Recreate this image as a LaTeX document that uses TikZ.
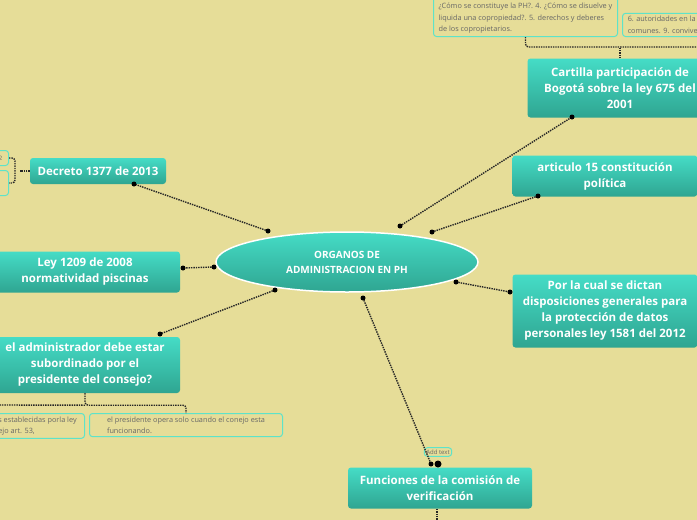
\documentclass[tikz,border=0pt]{standalone}
\usepackage{fontspec}
\setmainfont{Open Sans}
\usetikzlibrary{shapes.geometric}
\definecolor{bg}{HTML}{E6DD98}
\definecolor{tealA}{HTML}{45DCC6}
\definecolor{tealB}{HTML}{2FA591}
\definecolor{edgec}{HTML}{5EE3C9}
\tikzset{
 main/.style={rectangle,rounded corners=3pt,top color=tealA,bottom color=tealB,draw=none,text=white,font=\fontsize{11.5}{16}\selectfont\bfseries,align=center,inner sep=2pt},
 note/.style={rectangle,rounded corners=3pt,draw=edgec,line width=1pt,fill=bg,text=black!60,font=\fontsize{7.3}{11.5}\selectfont,align=left,inner sep=3pt,anchor=south west},
 link/.style={densely dotted,line width=1.4pt,black!85},
 dotc/.style={circle,fill=black,inner sep=0pt,minimum size=5pt}
}
\begin{document}
\begin{tikzpicture}[x=1pt,y=-1pt]
\fill[bg] (0,0) rectangle (697,520);
\useasboundingbox (0,0) rectangle (697,520);
% notes
\node[note,minimum width=184pt] (n1) at (433,37) {residencial los bienes tienen distintos usos? 3.\\¿Cómo se constituye la PH?. 4. ¿Cómo se disuelve y\\liquida una copropiedad?. 5. derechos y deberes\\de los copropietarios.};
\node[note,minimum width=100pt] (n2) at (622,37) {6. autoridades en la PH. 7.\\comunes. 9. convivencia};
\node[note,minimum width=94pt,anchor=north west] (n3) at (-10,413) {s establecidas porla ley\\ ejo art. 53,};
\node[note,minimum width=193pt,anchor=north west] (n4) at (89,413) {el presidente opera solo cuando el conejo esta\\funcionando.};
\node[note,minimum width=16pt,minimum height=15pt,font=\fontsize{6}{8}\selectfont,anchor=north west] (n5) at (-8,150) {2};
\node[note,minimum width=16pt,minimum height=25pt,anchor=north west] (n6) at (-8,170) {};
\node[note,font=\fontsize{6}{8}\selectfont,inner sep=2pt,anchor=center] (add) at (438,452) {Add text};
% center
\node[ellipse,top color=tealA,bottom color=tealB,draw=white,line width=1.5pt,minimum width=262pt,minimum height=60pt,text=white,font=\fontsize{10}{15}\selectfont\bfseries,align=center] (c) at (347,262) {ORGANOS DE\\ADMINISTRACION EN PH};
% main nodes
\node[main,minimum width=185pt,minimum height=59pt] (cart) at (620,88) {Cartilla participación de\\Bogotá sobre la ley 675 del\\2001};
\node[main,minimum width=185pt,minimum height=41pt] (art) at (605,176) {articulo 15 constitución\\política};
\node[main,minimum width=185pt,minimum height=73pt] (por) at (605,311) {Por la cual se dictan\\disposiciones generales para\\la protección de datos\\personales ley 1581 del 2012};
\node[main,minimum width=184pt,minimum height=41pt] (fun) at (440,488) {Funciones de la comisión de\\verificación};
\node[main,minimum width=190pt,minimum height=56pt] (adm) at (85,365) {el administrador debe estar\\subordinado por el\\presidente del consejo?};
\node[main,minimum width=190pt,minimum height=41pt] (ley) at (85,272) {Ley 1209 de 2008\\normatividad piscinas};
\node[main,minimum width=136pt,minimum height=26pt] (dec) at (98,171) {Decreto 1377 de 2013};
% connectors
\coordinate (c1) at (400,226); \coordinate (e1) at (572,117);
\coordinate (c2) at (432,232); \coordinate (e2) at (538,196);
\coordinate (c3) at (456,282); \coordinate (e3) at (510,292);
\coordinate (c4) at (363,298); \coordinate (e4) at (431,464);
\coordinate (c5) at (275,290); \coordinate (e5) at (160,334);
\coordinate (c6) at (214,267); \coordinate (e6) at (183,268);
\coordinate (c7) at (268,231); \coordinate (e7) at (134,184);
\foreach \a/\b in {c1/e1,c2/e2,c3/e3,c4/e4,c5/e5,c6/e6,c7/e7}{
 \draw[link] (\a) -- (\b);
 \node[dotc] at (\a) {}; \node[dotc] at (\b) {};}
\node[dotc,minimum size=7pt] at (438,464) {};
\draw[link] (fun.south) ++(-3,0) -- ++(0,12);
% brackets
\draw[link] (cart.north) -- ++(0,-10);
\draw[link,rounded corners=3pt] (n1.south) -- ++(0,10) -- (697,47);
\draw[link,rounded corners=3pt] (adm.south) -- ++(0,12) -| (n4.north);
\draw[link,rounded corners=3pt] (adm.south) ++(0,12) -- (0,405);
\draw[link] (dec.west) -- ++(-10,0);
\draw[link,rounded corners=3pt] (n5.east) -- ++(6,0) |- (n6.east);
\end{tikzpicture}
\end{document}
